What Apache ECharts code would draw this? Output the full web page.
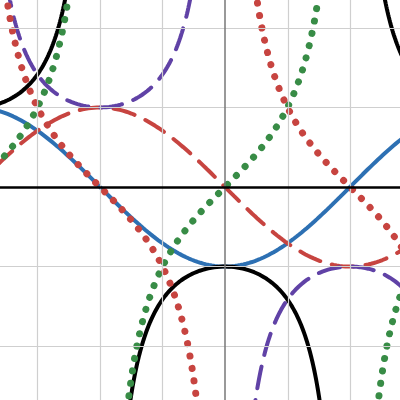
<!DOCTYPE html><html><head><meta charset="utf-8">
<script src="https://cdn.jsdelivr.net/npm/echarts@6/dist/echarts.min.js"></script>
<style>html,body{margin:0;padding:0;background:#fff}#c{width:400px;height:400px}</style></head><body><div id="c"></div>
<script>
const xRange=[-2.827,2.199];
const yRange=[-2.677,2.350];
const gridX=[-3,-2,-1,1,2,3].map(k=>k*Math.PI/4);
const gridY=[-2,-1,1,2];
const curves=[
 {name:'-cos x',f:x=>-Math.cos(x),brk:null,color:'#2d70b3',type:'solid'},
 {name:'-sec x',f:x=>-1/Math.cos(x),brk:Math.cos,color:'#000000',type:'solid'},
 {name:'-sin x',f:x=>-Math.sin(x),brk:null,color:'#c74440',type:'dashed'},
 {name:'-csc x',f:x=>-1/Math.sin(x),brk:Math.sin,color:'#6042a6',type:'dashed'},
 {name:'tan x',f:x=>Math.tan(x),brk:Math.cos,color:'#388c46',type:'dotted'},
 {name:'cot x',f:x=>1/Math.tan(x),brk:Math.sin,color:'#c74440',type:'dotted'}
];
function sample(c){const d=[];let prev=null;for(let x=xRange[0]-0.05;x<=xRange[1]+0.05;x+=0.004){
 if(c.brk){const s=c.brk(x);if(prev!==null&&Math.sign(s)!==Math.sign(prev))d.push([x,null]);prev=s;}
 let y=c.f(x);if(Math.abs(y)>20)y=Math.sign(y)*20;d.push([x,y]);}return d;}
const series=curves.map(c=>({type:'line',data:sample(c),showSymbol:false,symbol:'none',connectNulls:false,clip:true,
 lineStyle:{color:c.color,width:c.type==='dotted'?7:4,type:c.type==='dashed'?[22,12]:c.type==='dotted'?[0.1,12.5]:'solid',cap:'round'},z:3}));
series.unshift({type:'line',data:[],markLine:{silent:true,symbol:'none',label:{show:false},animation:false,
 data:[...gridX.map(v=>({xAxis:v,lineStyle:{color:'#cfcfcf',width:1.2,type:'solid'}})),
  ...gridY.map(v=>({yAxis:v,lineStyle:{color:'#cfcfcf',width:1.2,type:'solid'}})),
  {xAxis:0,lineStyle:{color:'#777',width:1.5,type:'solid'}},
  {yAxis:0,lineStyle:{color:'#000',width:2.5,type:'solid'}}]},z:1});
const ch=echarts.init(document.getElementById('c'));
ch.setOption({animation:false,backgroundColor:'#fff',grid:{left:0,right:0,top:0,bottom:0},
 xAxis:{type:'value',min:xRange[0],max:xRange[1],show:false,splitLine:{show:false}},
 yAxis:{type:'value',min:yRange[0],max:yRange[1],show:false,splitLine:{show:false}},series});
</script></body></html>
